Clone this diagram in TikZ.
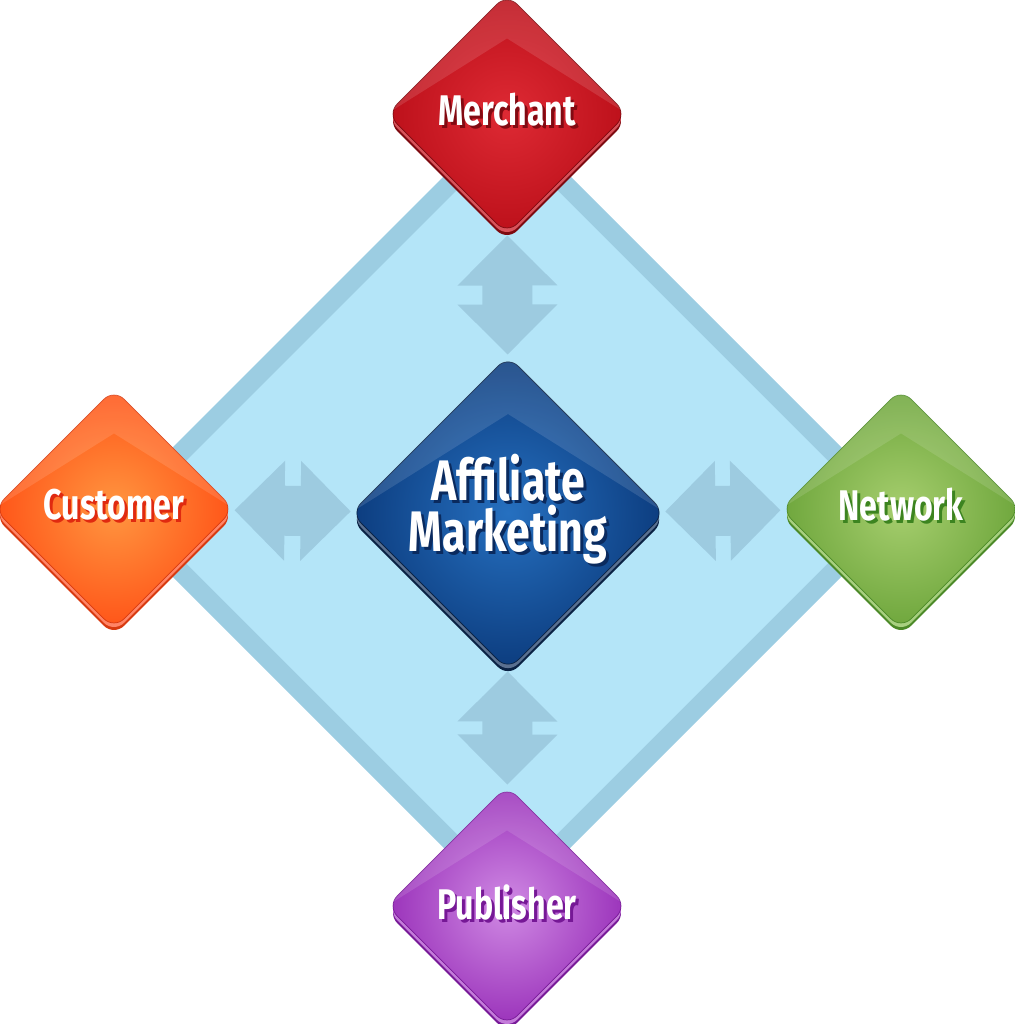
\documentclass[tikz,border=0pt]{standalone}
\usepackage{fontspec}
\newfontfamily\gemfont[FakeStretch=0.75]{Fira Sans}
\usetikzlibrary{shapes.geometric,arrows.meta,calc}

\definecolor{bandblue}{HTML}{9CCDE2}
\definecolor{paleblue}{HTML}{B4E5F8}
\definecolor{arrowblue}{HTML}{9DCBE0}

\definecolor{merchant-face}{HTML}{BC101A}
\definecolor{merchant-glow}{HTML}{DE2A34}
\definecolor{merchant-rim}{HTML}{7E0A10}
\definecolor{merchant-edge}{HTML}{D8525A}
\definecolor{merchant-shadow}{HTML}{820A12}

\definecolor{customer-face}{HTML}{FF5418}
\definecolor{customer-glow}{HTML}{FF9640}
\definecolor{customer-rim}{HTML}{D83A10}
\definecolor{customer-edge}{HTML}{FF8466}
\definecolor{customer-shadow}{HTML}{E02A10}

\definecolor{network-face}{HTML}{6EA63C}
\definecolor{network-glow}{HTML}{A6CE6E}
\definecolor{network-rim}{HTML}{4C8A28}
\definecolor{network-edge}{HTML}{A8D080}
\definecolor{network-shadow}{HTML}{3C8420}

\definecolor{publisher-face}{HTML}{9A32BA}
\definecolor{publisher-glow}{HTML}{D08AE4}
\definecolor{publisher-rim}{HTML}{781A98}
\definecolor{publisher-edge}{HTML}{C47CDA}
\definecolor{publisher-shadow}{HTML}{761896}

\definecolor{hub-face}{HTML}{0C3C7E}
\definecolor{hub-glow}{HTML}{2670C0}
\definecolor{hub-rim}{HTML}{0A2244}
\definecolor{hub-edge}{HTML}{5A7090}
\definecolor{hub-shadow}{HTML}{0A2A5E}

\tikzset{
  gem/.style={diamond, aspect=1, inner sep=0pt, minimum size=#1, rounded corners=10pt},
  gemtext/.style={text=white, align=center, inner sep=0pt},
  link/.style={draw=arrowblue, line width=35pt, line cap=rect,
    >={Triangle[width=70pt,length=35pt,line width=0pt]}, <->,
    shorten <=1pt, shorten >=1pt}
}

\begin{document}
\begin{tikzpicture}[x=0.7pt, y=-0.7pt]

\useasboundingbox (0,0) rectangle (1015,1024);

% big diamond behind everything
\fill[bandblue] (507,113) -- (906,512) -- (507,911) -- (108,512) -- cycle;
\fill[paleblue] (507,140) -- (879,512) -- (507,884) -- (135,512) -- cycle;

% glossy diamonds
\foreach \name/\x/\y/\size/\fs/\bs/\txt in {
  merchant/507/114/168/30/30/Merchant,
  customer/114/509/168/30/30/Customer,
  network/901/509/168/30/30/Network,
  publisher/507/906/168/30/30/Publisher,
  hub/508/513/220/40/36/{Affiliate\\Marketing}}
{
  \node[gem=\size pt, fill=\name-rim] (\name-rim) at (\x,\y+7) {};
  \node[gem=\size pt, fill=\name-edge] (\name-edge) at (\x,\y+4) {};
  \node[gem=\size pt, inner color=\name-glow, outer color=\name-face,
        draw=\name-rim, line width=0.5pt] (\name) at (\x,\y) {};
  \begin{scope}
    \clip[rounded corners=10pt] (\name.east) -- (\name.north) -- (\name.west) -- (\name.south) -- cycle;
    \fill[white, opacity=0.12] (\name.west) -- (\name.north) -- (\name.east) -- ($(\name.center)+(0,-0.45*\size)$) -- cycle;
  \end{scope}
  \node[gemtext, text=\name-shadow, font=\gemfont\bfseries\fontsize{\fs}{\bs}\selectfont]
    (\name-shade) at ($(\name)+(3,-1)$) {\txt};
  \node[gemtext, font=\gemfont\bfseries\fontsize{\fs}{\bs}\selectfont]
    (\name-label) at ($(\name)+(0,-4)$) {\txt};
}

% double arrows between the hub and the four diamonds
\draw[link] (hub) -- (merchant);
\draw[link] (hub) -- (customer);
\draw[link] (hub) -- (network);
\draw[link] (hub) -- (publisher);

\end{tikzpicture}
\end{document}
